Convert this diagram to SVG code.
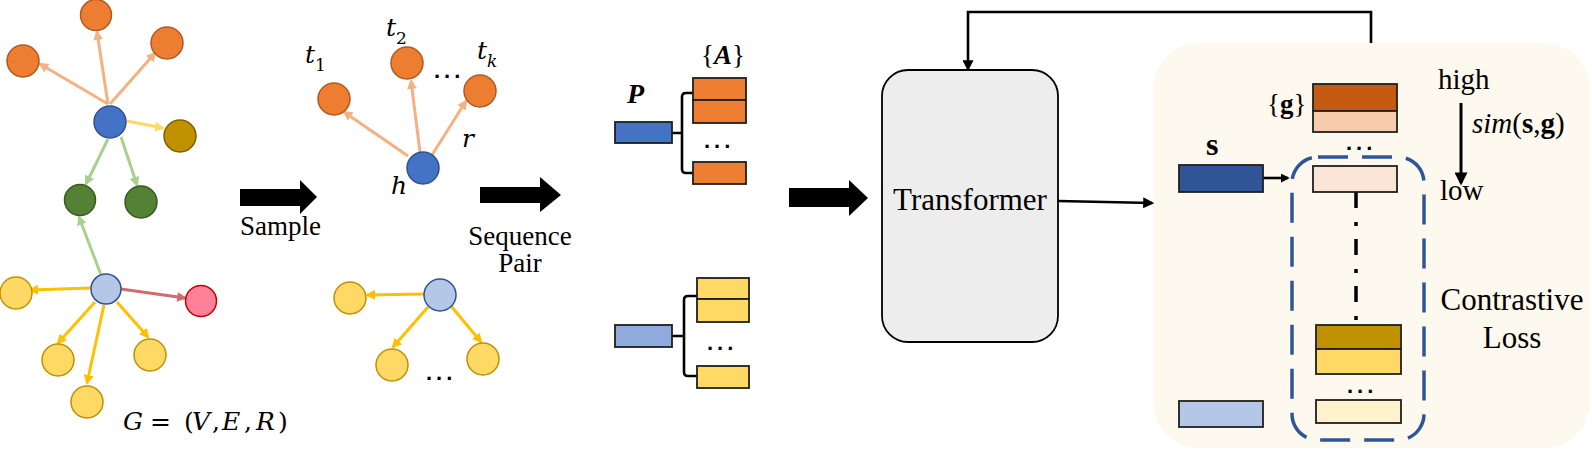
<svg xmlns="http://www.w3.org/2000/svg" width="1592" height="453" viewBox="0 0 1592 453">
<defs>
  <marker id="m-peach" viewBox="0 0 10 10" refX="8" refY="5" markerWidth="10" markerHeight="10" markerUnits="userSpaceOnUse" orient="auto"><path d="M0,0 L10,5 L0,10 z" fill="#F4B183"/></marker>
  <marker id="m-yel" viewBox="0 0 10 10" refX="8" refY="5" markerWidth="10" markerHeight="10" markerUnits="userSpaceOnUse" orient="auto"><path d="M0,0 L10,5 L0,10 z" fill="#FFD966"/></marker>
  <marker id="m-green" viewBox="0 0 10 10" refX="8" refY="5" markerWidth="10" markerHeight="10" markerUnits="userSpaceOnUse" orient="auto"><path d="M0,0 L10,5 L0,10 z" fill="#A9D18E"/></marker>
  <marker id="m-gold" viewBox="0 0 10 10" refX="8" refY="5" markerWidth="10" markerHeight="10" markerUnits="userSpaceOnUse" orient="auto"><path d="M0,0 L10,5 L0,10 z" fill="#FFC000"/></marker>
  <marker id="m-red" viewBox="0 0 10 10" refX="8" refY="5" markerWidth="10" markerHeight="10" markerUnits="userSpaceOnUse" orient="auto"><path d="M0,0 L10,5 L0,10 z" fill="#D06C6C"/></marker>
  <marker id="m-blk" viewBox="0 0 10 10" refX="8" refY="5" markerWidth="11" markerHeight="11" markerUnits="userSpaceOnUse" orient="auto"><path d="M0,0 L10,5 L0,10 z" fill="#000"/></marker>
  <marker id="m-blk-s" viewBox="0 0 10 10" refX="8" refY="5" markerWidth="9" markerHeight="9" markerUnits="userSpaceOnUse" orient="auto"><path d="M0,0 L10,5 L0,10 z" fill="#000"/></marker>
  <marker id="m-blk-l" viewBox="0 0 10 10" refX="8" refY="5" markerWidth="14" markerHeight="13" markerUnits="userSpaceOnUse" orient="auto"><path d="M0,0 L10,5 L0,10 z" fill="#000"/></marker>
</defs>

<g id="panel">
  <rect x="1153" y="43" width="437" height="405" rx="46" fill="#FEF9EE"/>
</g>

<g id="connectors" fill="none" stroke-width="3">
  <g stroke="#F4B183" marker-end="url(#m-peach)">
    <line x1="108" y1="104" x2="97" y2="32"/>
    <line x1="108" y1="104" x2="40" y2="64"/>
    <line x1="110" y1="104" x2="155" y2="53"/>
    <line x1="408" y1="156" x2="344" y2="112"/>
    <line x1="420" y1="152" x2="411" y2="81"/>
    <line x1="432" y1="155" x2="466" y2="101"/>
  </g>
  <line x1="127" y1="121" x2="163" y2="128" stroke="#FFD966" marker-end="url(#m-yel)"/>
  <g stroke="#A9D18E" marker-end="url(#m-green)">
    <line x1="108" y1="139" x2="86" y2="184"/>
    <line x1="121" y1="137" x2="137" y2="185"/>
    <line x1="101" y1="275" x2="79" y2="217"/>
  </g>
  <line x1="121" y1="289" x2="185" y2="298" stroke="#D06C6C" marker-end="url(#m-red)"/>
  <g stroke="#FFC000" marker-end="url(#m-gold)">
    <line x1="91" y1="288" x2="30" y2="290"/>
    <line x1="95" y1="302" x2="58" y2="343"/>
    <line x1="104" y1="305" x2="87" y2="383"/>
    <line x1="117" y1="302" x2="148" y2="337"/>
    <line x1="424" y1="294" x2="367" y2="295"/>
    <line x1="428" y1="307" x2="393" y2="347"/>
    <line x1="451" y1="306" x2="481" y2="342"/>
  </g>
  <g fill="#000" stroke="none">
    <polygon points="240,189 300,189 300,180 317,197 300,214 300,206 240,206"/>
    <polygon points="480,187 540,187 540,177 561,195 540,212 540,203 480,203"/>
    <polygon points="789,188 849,188 849,180 868,198 849,216 849,207 789,207"/>
  </g>
  <g stroke="#000" stroke-width="2.6">
    <path d="M672,133 H682 M693,93 H686 Q682,93 682,97 V169 Q682,173 686,173 H693"/>
    <path d="M672,336 H684 M697,296 H688 Q684,296 684,300 V372 Q684,376 688,376 H697"/>
    <line x1="1058" y1="201" x2="1152" y2="203" marker-end="url(#m-blk)"/>
    <polyline points="1371,43 1371,12 968,12 968,69" marker-end="url(#m-blk)"/>
    <line x1="1263" y1="178" x2="1288" y2="178" marker-end="url(#m-blk-s)"/>
  </g>
  <line x1="1461" y1="103" x2="1461" y2="183" stroke="#000" stroke-width="3" marker-end="url(#m-blk-l)"/>
  <line x1="1356" y1="192" x2="1356" y2="321" stroke="#000" stroke-width="3.5" stroke-dasharray="16 14 4 13"/>
</g>

<g id="graph-full" stroke-width="1.5">
  <g fill="#ED7D31" stroke="#AE5A21">
    <circle id="v-o1" cx="96" cy="15" r="15.5"/>
    <circle id="v-o2" cx="23" cy="61" r="16"/>
    <circle id="v-o3" cx="167" cy="43" r="16"/>
  </g>
  <circle id="v-b" cx="110" cy="122" r="16" fill="#4472C4" stroke="#2F528F"/>
  <circle id="v-ol" cx="180" cy="136" r="16" fill="#BF9000" stroke="#7F6000"/>
  <g fill="#548235" stroke="#385723">
    <circle id="v-g1" cx="80" cy="200" r="15.5"/>
    <circle id="v-g2" cx="141" cy="202" r="16"/>
  </g>
  <circle id="v-lb" cx="106" cy="289" r="15" fill="#B4C7E7" stroke="#2F528F"/>
  <circle id="v-p" cx="201" cy="301" r="15.5" fill="#FF8097" stroke="#C00000"/>
  <g fill="#FFD966" stroke="#BF9000">
    <circle id="v-y1" cx="16" cy="293" r="16"/>
    <circle id="v-y2" cx="58" cy="360" r="16"/>
    <circle id="v-y3" cx="150" cy="355" r="16"/>
    <circle id="v-y4" cx="87" cy="402" r="16"/>
  </g>
  <text stroke="none" fill="#000" font-family="DejaVu Serif" font-style="italic" font-size="25" y="430"><tspan x="123">G</tspan><tspan x="150" font-style="normal">=</tspan><tspan x="184" font-style="normal">(</tspan><tspan x="192">V</tspan><tspan x="212" font-style="normal">,</tspan><tspan x="222">E</tspan><tspan x="244" font-style="normal">,</tspan><tspan x="256">R</tspan><tspan x="278" font-style="normal">)</tspan></text>
</g>

<g id="label-sample">
  <text font-family="Liberation Serif" font-size="27" x="240" y="235">Sample</text>
</g>

<g id="sub-1" stroke-width="1.5">
  <g fill="#ED7D31" stroke="#AE5A21">
    <circle cx="334" cy="99" r="16"/>
    <circle cx="407" cy="63" r="16"/>
    <circle cx="480" cy="91" r="16"/>
  </g>
  <circle cx="423" cy="168" r="16" fill="#4472C4" stroke="#2F528F"/>
  <g font-family="DejaVu Serif" font-style="italic" font-size="25">
    <text x="305" y="63">t<tspan font-size="17" dy="8" font-style="normal">1</tspan></text>
    <text x="386" y="36">t<tspan font-size="17" dy="8" font-style="normal">2</tspan></text>
    <text x="477" y="59">t<tspan font-size="17" dy="8">k</tspan></text>
    <text x="462" y="147">r</text>
    <text x="391" y="194">h</text>
  </g>
  <text font-family="Liberation Sans" font-weight="bold" font-size="22" letter-spacing="4" x="434" y="78">...</text>
</g>

<g id="sub-2" stroke-width="1.5">
  <circle cx="440" cy="295" r="16" fill="#B4C7E7" stroke="#2F528F"/>
  <g fill="#FFD966" stroke="#BF9000">
    <circle cx="350" cy="298" r="16"/>
    <circle cx="392" cy="365" r="16"/>
    <circle cx="483" cy="359" r="16"/>
  </g>
  <text font-family="Liberation Sans" font-weight="bold" font-size="22" letter-spacing="4" x="426" y="380">...</text>
</g>

<g id="label-seqpair" font-family="Liberation Serif" font-size="27">
  <text x="520" y="245" text-anchor="middle">Sequence</text>
  <text x="520" y="272" text-anchor="middle">Pair</text>
</g>

<g id="seq-1" stroke="#1E1E1E" stroke-width="1.8">
  <rect x="615" y="122" width="57" height="21" fill="#4472C4"/>
  <g fill="#ED7D31">
    <rect x="693" y="78" width="53" height="22"/>
    <rect x="693" y="100" width="53" height="23"/>
    <rect x="693" y="162" width="53" height="22"/>
  </g>
  <g stroke="none" fill="#000">
    <text font-family="Liberation Serif" font-weight="bold" font-style="italic" font-size="28" x="627" y="103">P</text>
    <text font-family="Liberation Serif" font-size="27" x="701" y="64">{<tspan font-weight="bold" font-style="italic">A</tspan>}</text>
    <text font-family="Liberation Sans" font-weight="bold" font-size="22" letter-spacing="4" x="704" y="148">...</text>
  </g>
</g>

<g id="seq-2" stroke="#1E1E1E" stroke-width="1.8">
  <rect x="615" y="325" width="57" height="22" fill="#8FAADC"/>
  <g fill="#FFD966">
    <rect x="697" y="278" width="52" height="21"/>
    <rect x="697" y="299" width="52" height="23"/>
    <rect x="697" y="366" width="52" height="22"/>
  </g>
  <text stroke="none" fill="#000" font-family="Liberation Sans" font-weight="bold" font-size="22" letter-spacing="4" x="707" y="350">...</text>
</g>

<g id="transformer">
  <rect x="882" y="70" width="176" height="272" rx="26" fill="#EDEDED" stroke="#000" stroke-width="1.8"/>
  <text font-family="Liberation Serif" font-size="31" x="970" y="210" text-anchor="middle">Transformer</text>
</g>

<g id="contrastive">
  <rect x="1292" y="157" width="132" height="283" rx="26" fill="none" stroke="#2F5597" stroke-width="3.5" stroke-dasharray="30 14"/>
  <g stroke="#1E1E1E" stroke-width="1.8">
    <rect x="1313" y="84" width="84" height="27" fill="#C55A11"/>
    <rect x="1313" y="111" width="84" height="21" fill="#F8CBAD"/>
    <rect x="1179" y="165" width="84" height="27" fill="#2F5597"/>
    <rect x="1313" y="166" width="84" height="26" fill="#FBE5D6"/>
    <rect x="1316" y="325" width="85" height="24" fill="#BF9000"/>
    <rect x="1316" y="349" width="85" height="25" fill="#FFD966"/>
    <rect x="1316" y="400" width="85" height="23" fill="#FFF2CC"/>
    <rect x="1179" y="401" width="84" height="26" fill="#B4C7E7"/>
  </g>
  <text font-family="Liberation Sans" font-weight="bold" font-size="22" letter-spacing="4" x="1346" y="150">...</text>
  <text font-family="Liberation Sans" font-weight="bold" font-size="22" letter-spacing="4" x="1347" y="393">...</text>
  <g font-family="Liberation Serif">
    <text font-size="27" x="1267" y="113">{<tspan font-weight="bold">g</tspan>}</text>
    <text font-weight="bold" font-size="32" x="1206" y="155">s</text>
    <text font-size="29" x="1438" y="89">high</text>
    <text font-size="29" x="1472" y="133"><tspan font-style="italic">sim</tspan>(<tspan font-weight="bold">s</tspan>,<tspan font-weight="bold">g</tspan>)</text>
    <text font-size="29" x="1440" y="200">low</text>
    <text font-size="31" x="1512" y="310" text-anchor="middle">Contrastive</text>
    <text font-size="31" x="1512" y="348" text-anchor="middle">Loss</text>
  </g>
</g>
</svg>
